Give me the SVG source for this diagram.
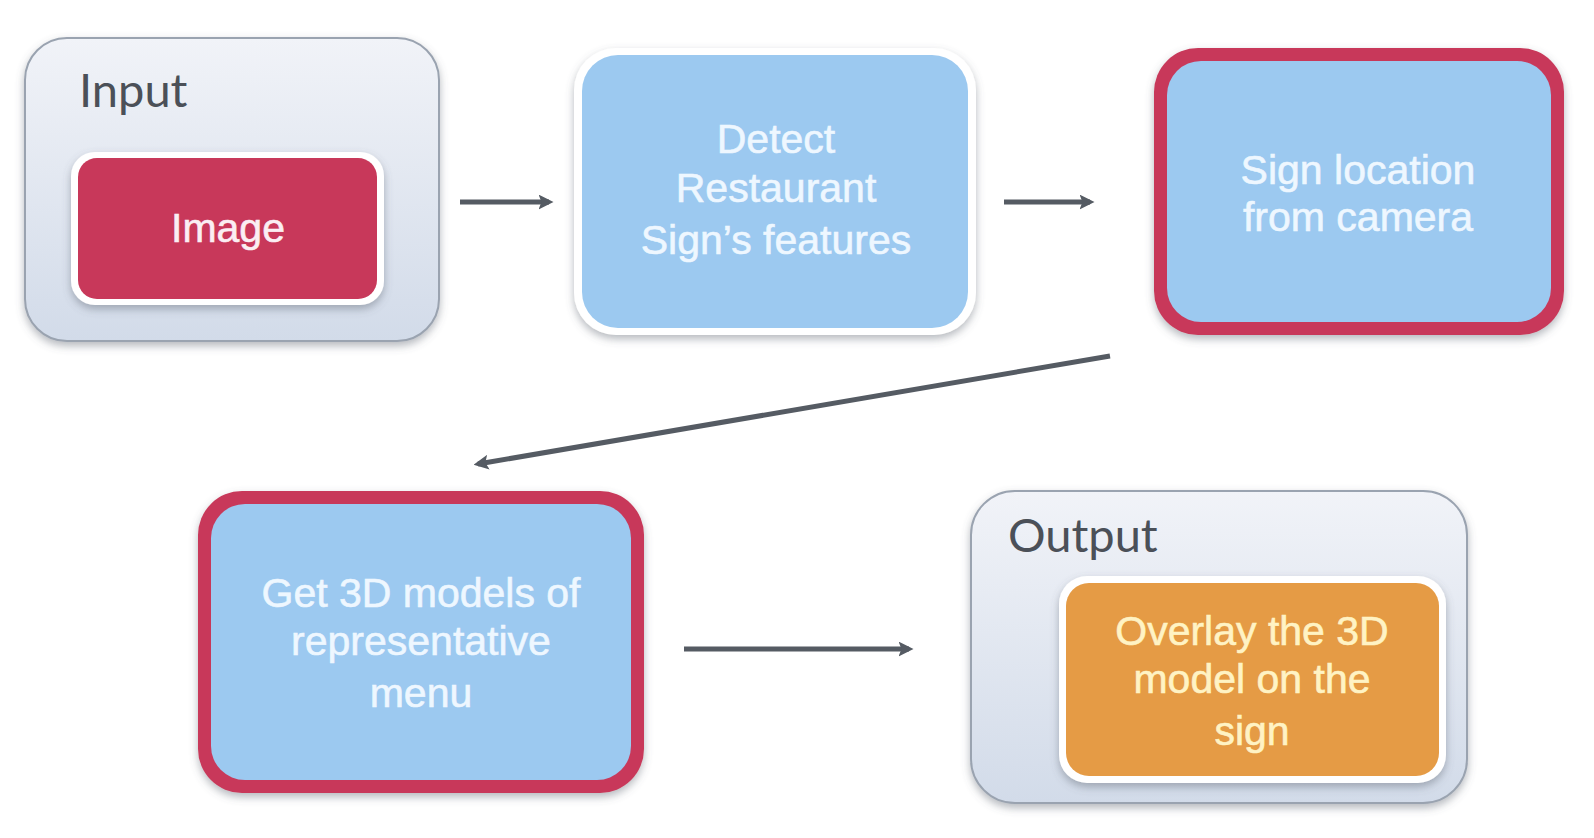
<svg xmlns="http://www.w3.org/2000/svg" width="1594" height="838" viewBox="0 0 1594 838">
<defs>
  <linearGradient id="gGrey" x1="0" y1="0" x2="0" y2="1">
    <stop offset="0" stop-color="#f1f3f8"/>
    <stop offset="1" stop-color="#d2dbe9"/>
  </linearGradient>
  <filter id="sh" x="-10%" y="-10%" width="120%" height="125%">
    <feDropShadow dx="0" dy="4" stdDeviation="4" flood-color="#5a6270" flood-opacity="0.45"/>
  </filter>
  <marker id="ah" viewBox="0 0 10 10" refX="7" refY="5" markerWidth="3" markerHeight="3" orient="auto" markerUnits="strokeWidth">
    <path d="M0,0 L10,5 L0,10 L2,5 z" fill="#555b63"/>
  </marker>
  <style>
    .cont{fill:url(#gGrey);stroke:#9aa3b0;stroke-width:2}
    .title{font-family:Lato,"Open Sans",sans-serif;font-size:47px;fill:#4b5058}
    .lbl{font-family:"Liberation Sans",Arial,sans-serif;font-size:41px;text-anchor:middle;stroke-width:0.6px}
    .wt{fill:#eef7ff;stroke:#eef7ff}
    .yt{fill:#fff3c4;stroke:#fff3c4}
    .pt{fill:#fbeef3;stroke:#fbeef3}
    .blue{fill:#9cc9f0}
    .crim{fill:#c8385a}
    .white{fill:#ffffff}
    .orange{fill:#e59b45}
    .conn{stroke:#555b63;stroke-width:5;fill:none;marker-end:url(#ah)}
  </style>
</defs>
<rect width="1594" height="838" fill="#ffffff"/>

<g id="connectors">
  <line class="conn" x1="460" y1="202" x2="549" y2="202"/>
  <line class="conn" x1="1004" y1="202" x2="1090" y2="202"/>
  <line class="conn" x1="1110" y1="356" x2="478" y2="464"/>
  <line class="conn" x1="684" y1="649" x2="909" y2="649"/>
</g>

<g id="input">
  <rect class="cont" x="25" y="38" width="414" height="303" rx="42" filter="url(#sh)"/>
  <text class="title" x="79" y="107">Input</text>
  <g id="image">
    <rect class="white" x="71" y="152" width="313" height="153" rx="24" filter="url(#sh)"/>
    <rect class="crim" x="78" y="158" width="299" height="141" rx="19"/>
    <text class="lbl pt" x="228" y="242">Image</text>
  </g>
</g>

<g id="detect">
  <rect class="white" x="574" y="48" width="402" height="287" rx="42" filter="url(#sh)"/>
  <rect class="blue" x="582" y="55" width="386" height="273" rx="36"/>
  <text class="lbl wt" x="776" y="153">Detect</text>
  <text class="lbl wt" x="776" y="202">Restaurant</text>
  <text class="lbl wt" x="776" y="254">Sign’s features</text>
</g>

<g id="signloc">
  <rect class="crim" x="1154" y="48" width="410" height="287" rx="44" filter="url(#sh)"/>
  <rect class="blue" x="1167" y="61" width="384" height="261" rx="34"/>
  <text class="lbl wt" x="1358" y="184">Sign location</text>
  <text class="lbl wt" x="1358" y="231">from camera</text>
</g>

<g id="get3d">
  <rect class="crim" x="198" y="491" width="446" height="302" rx="44" filter="url(#sh)"/>
  <rect class="blue" x="211" y="504" width="420" height="276" rx="34"/>
  <text class="lbl wt" x="421" y="607">Get 3D models of</text>
  <text class="lbl wt" x="421" y="655">representative</text>
  <text class="lbl wt" x="421" y="707">menu</text>
</g>

<g id="output">
  <rect class="cont" x="971" y="491" width="496" height="312" rx="44" filter="url(#sh)"/>
  <text class="title" x="1008" y="552">Output</text>
  <g id="overlay">
    <rect class="white" x="1059" y="576" width="387" height="207" rx="28" filter="url(#sh)"/>
    <rect class="orange" x="1066" y="583" width="373" height="193" rx="23"/>
    <text class="lbl yt" x="1252" y="645">Overlay the 3D</text>
    <text class="lbl yt" x="1252" y="693">model on the</text>
    <text class="lbl yt" x="1252" y="745">sign</text>
  </g>
</g>
</svg>
